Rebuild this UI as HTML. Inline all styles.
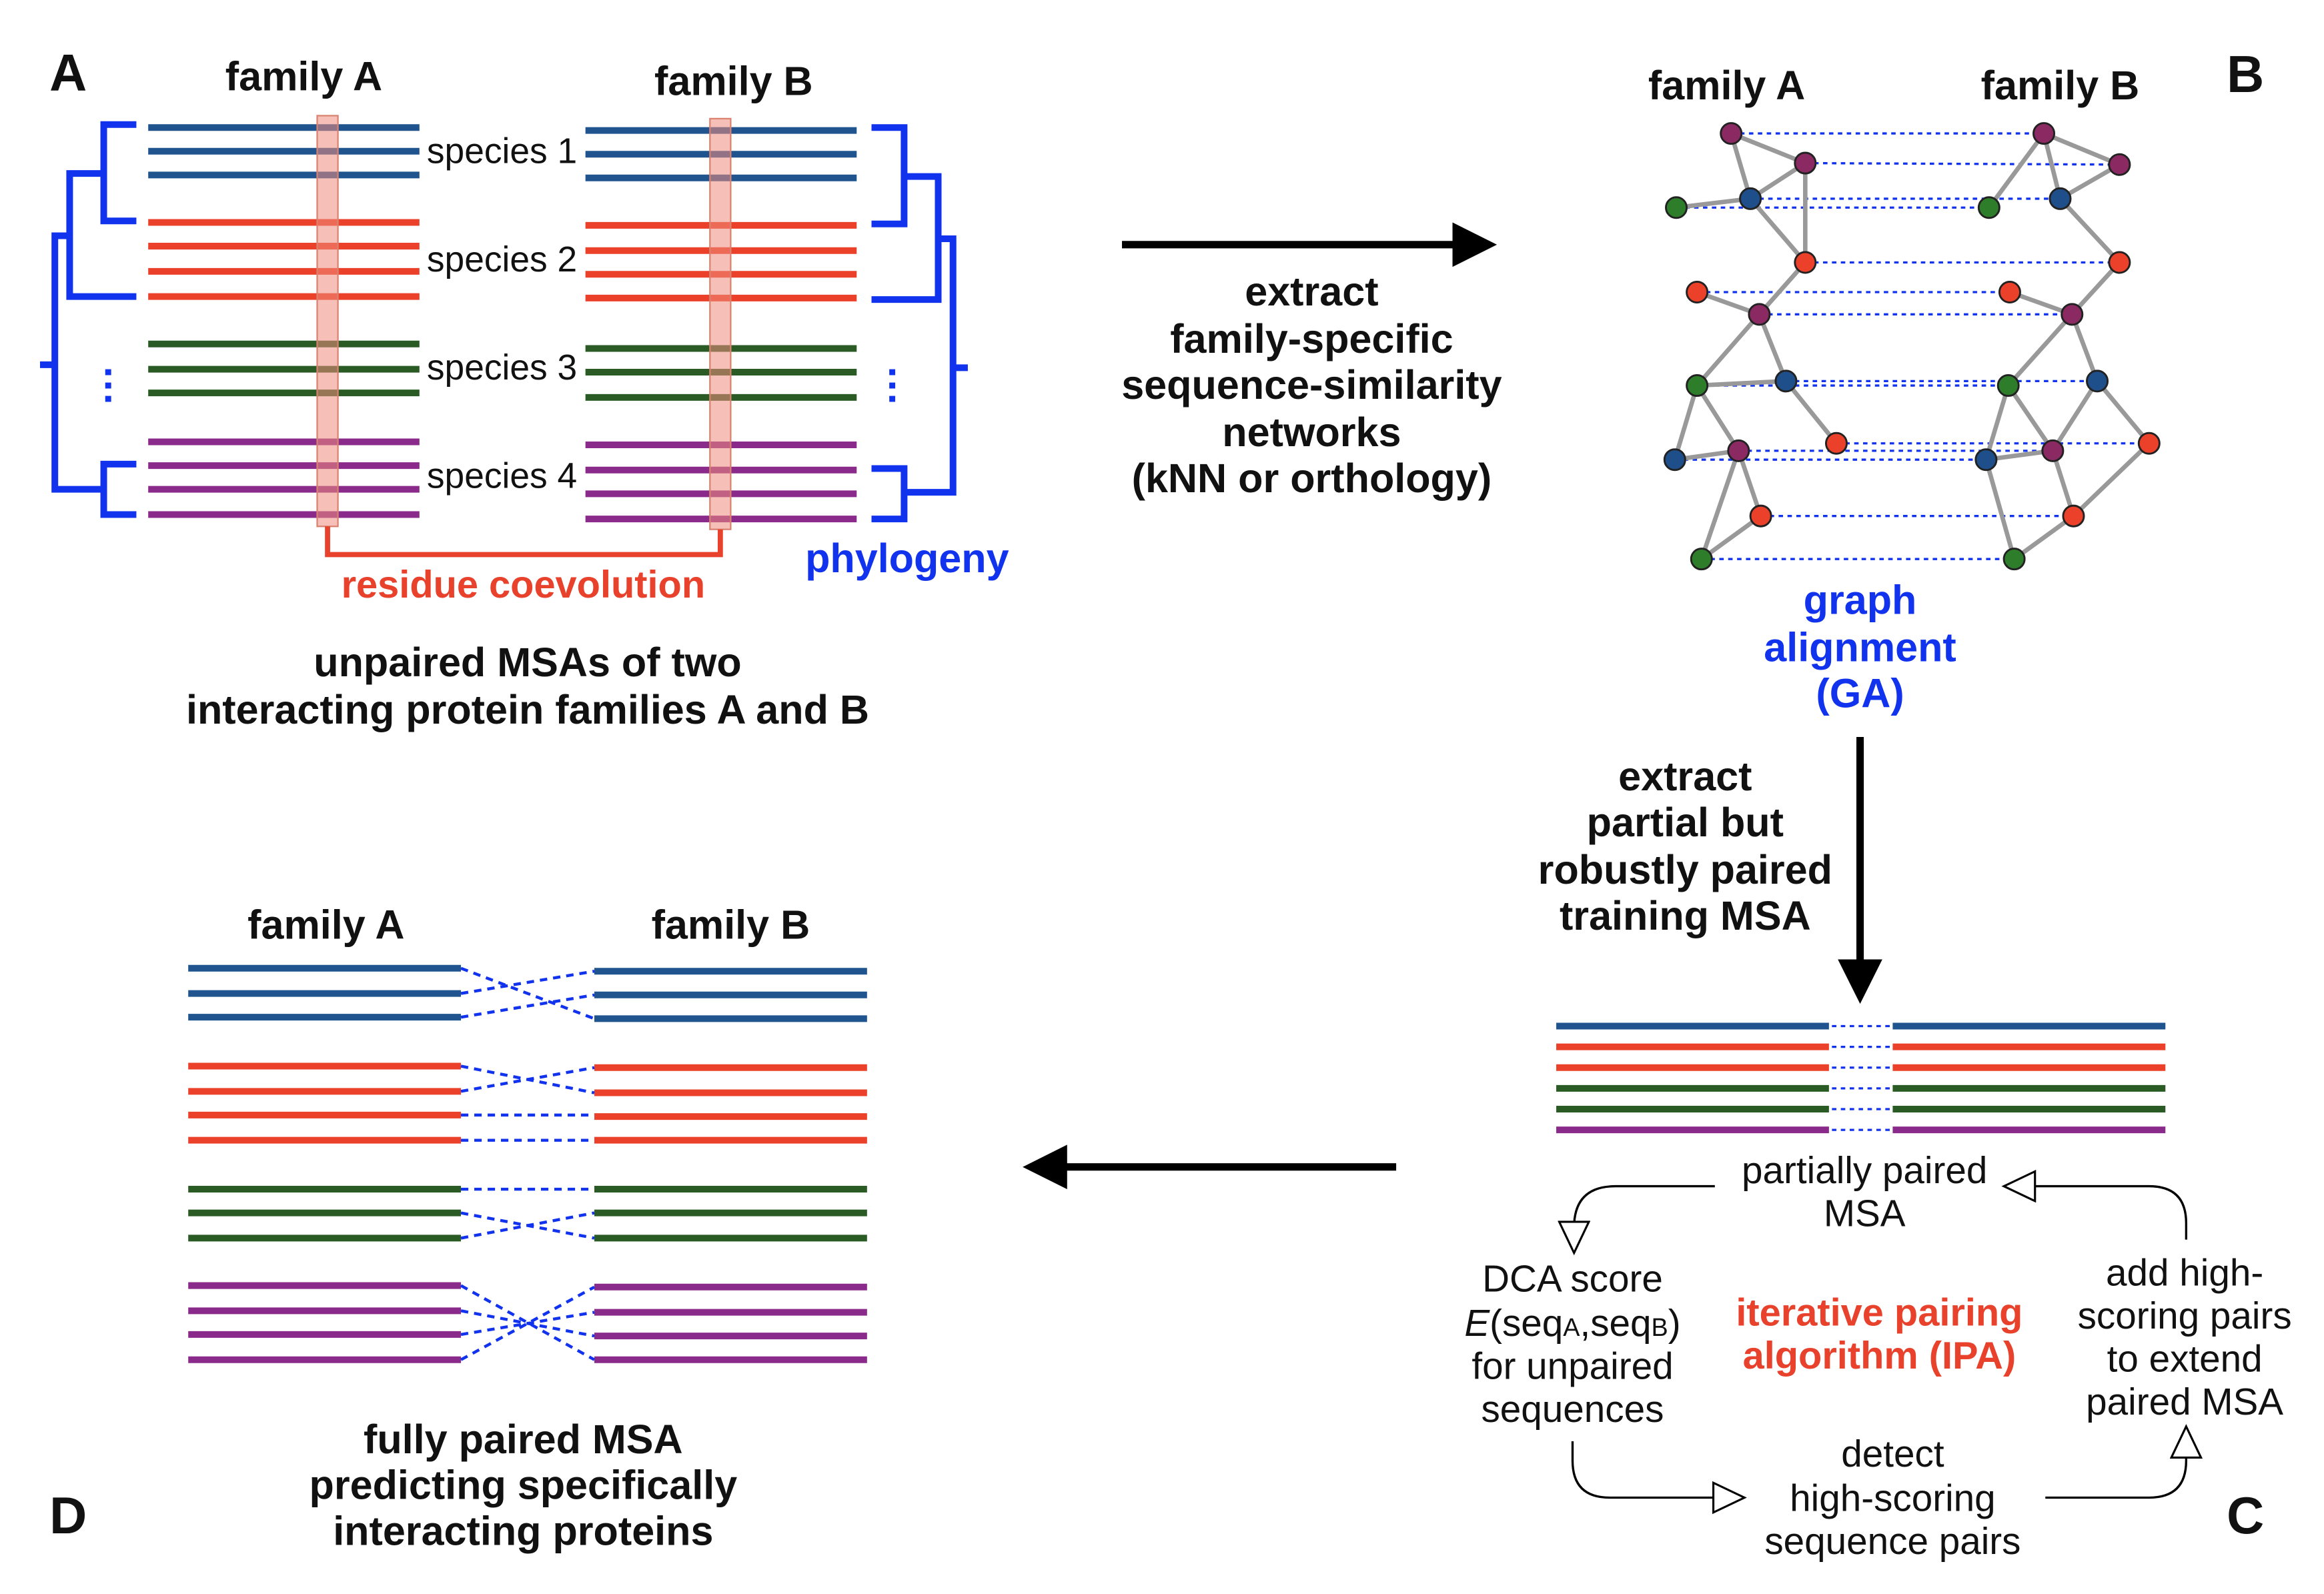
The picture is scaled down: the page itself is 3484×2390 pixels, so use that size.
<!DOCTYPE html>
<html><head><meta charset="utf-8"><style>html,body{margin:0;padding:0;background:#fff}svg{display:block}</style></head>
<body>
<svg width="3484" height="2390" viewBox="0 0 1568 1075" preserveAspectRatio="none" xmlns="http://www.w3.org/2000/svg" font-family="Liberation Sans, Arial, sans-serif">
<defs>
<marker id="ah" markerWidth="6" markerHeight="6" refX="5" refY="3" orient="auto" markerUnits="strokeWidth"><path d="M0,0 L6,3 L0,6 z" fill="#000"/></marker>
<marker id="oh" markerWidth="24" markerHeight="22" refX="22" refY="11" orient="auto" markerUnits="userSpaceOnUse"><path d="M1,1 L22,11 L1,21 z" fill="#fff" stroke="#000" stroke-width="1.4"/></marker>
</defs>
<g font-weight="bold" font-size="27.5" fill="#111" text-anchor="middle">
<text x="46" y="61" font-size="35">A</text>
<text x="205" y="61">family A</text>
<text x="495" y="64">family B</text>
<text x="1165" y="67">family A</text>
<text x="1390" y="67">family B</text>
<text x="1515" y="62" font-size="35">B</text>
<text x="1515" y="1034" font-size="35">C</text>
<text x="46" y="1034" font-size="35">D</text>
<text x="220" y="633">family A</text>
<text x="493" y="633">family B</text>
<text x="356" y="456">unpaired MSAs of two</text>
<text x="356" y="488">interacting protein families A and B</text>
<text x="885" y="206">extract</text>
<text x="885" y="238">family-specific</text>
<text x="885" y="269">sequence-similarity</text>
<text x="885" y="301">networks</text>
<text x="885" y="332">(kNN or orthology)</text>
<text x="1137" y="533">extract</text>
<text x="1137" y="564">partial but</text>
<text x="1137" y="596">robustly paired</text>
<text x="1137" y="627">training MSA</text>
<text x="353" y="980">fully paired MSA</text>
<text x="353" y="1011">predicting specifically</text>
<text x="353" y="1042">interacting proteins</text>
<g fill="#1133ee"><text x="1255" y="414">graph</text><text x="1255" y="446">alignment</text><text x="1255" y="477">(GA)</text><text x="612" y="386">phylogeny</text></g>
<g fill="#e8412c" font-size="26"><text x="353" y="403">residue coevolution</text><text x="1268" y="894">iterative pairing</text><text x="1268" y="923">algorithm (IPA)</text></g>
</g>
<g font-size="24" fill="#111">
<text x="288" y="110">species 1</text><text x="288" y="183">species 2</text><text x="288" y="256">species 3</text><text x="288" y="329">species 4</text>
</g>
<g font-size="25.5" fill="#111" text-anchor="middle">
<text x="1258" y="798">partially paired</text><text x="1258" y="827">MSA</text>
<text x="1061" y="871">DCA score</text>
<text x="1061" y="901"><tspan font-style="italic">E</tspan>(seq<tspan font-size="17">A</tspan>,seq<tspan font-size="17">B</tspan>)</text>
<text x="1061" y="930">for unpaired</text><text x="1061" y="959">sequences</text>
<text x="1474" y="867">add high-</text><text x="1474" y="896">scoring pairs</text><text x="1474" y="925">to extend</text><text x="1474" y="954">paired MSA</text>
<text x="1277" y="989">detect</text><text x="1277" y="1019">high-scoring</text><text x="1277" y="1048">sequence pairs</text>
</g>
<g stroke-width="4.5">
<g stroke="#1f548e"><path d="M100 86H283M100 102H283M100 118H283M395 88H578M395 104H578M395 120H578"/></g>
<g stroke="#eb4029"><path d="M100 150H283M100 166H283M100 183H283M100 200H283M395 152H578M395 169H578M395 185H578M395 201H578"/></g>
<g stroke="#2a5b24"><path d="M100 232H283M100 249H283M100 265H283M395 235H578M395 251H578M395 268H578"/></g>
<g stroke="#8a2a8a"><path d="M100 298H283M100 314H283M100 330H283M100 347H283M395 300H578M395 317H578M395 333H578M395 350H578"/></g>
</g>
<rect x="214" y="78" width="14" height="277" fill="rgba(238,140,125,0.55)" stroke="#d9826f" stroke-width="1"/>
<rect x="479" y="80" width="14" height="277" fill="rgba(238,140,125,0.55)" stroke="#d9826f" stroke-width="1"/>
<path d="M221 355V374H486V357" fill="none" stroke="#e8412c" stroke-width="3.5"/>
<g fill="none" stroke="#1133ee" stroke-width="4.5">
<path d="M92 84H70V149H92M70 117H47V200H92M47 159H37V330H70M37 246H27M92 313H70V347H92"/>
<path d="M588 86H610V151H588M610 119H633V202H588M633 161H643V332H610M643 248H653M588 316H610V350H588"/>
</g>
<g fill="#1133ee"><rect x="71" y="249" width="4" height="4"/><rect x="71" y="258" width="4" height="4"/><rect x="71" y="267" width="4" height="4"/>
<rect x="600" y="249" width="4" height="4"/><rect x="600" y="258" width="4" height="4"/><rect x="600" y="267" width="4" height="4"/></g>
<line x1="757" y1="165" x2="1005" y2="165" stroke="#000" stroke-width="5" marker-end="url(#ah)"/>
<line x1="1255" y1="497" x2="1255" y2="672" stroke="#000" stroke-width="5" marker-end="url(#ah)"/>
<line x1="942" y1="787" x2="695" y2="787" stroke="#000" stroke-width="5" marker-end="url(#ah)"/>
<g stroke="#1133ee" stroke-width="1.5" stroke-dasharray="3,3">
<path d="M1168 90H1379M1218 110L1430 111M1181 134H1390M1131 140H1342M1218 177H1430M1145 197H1356M1187 212H1398M1205 257H1415M1145 260H1355M1173 304H1385M1130 310H1340M1239 299H1450M1188 348H1399M1148 377H1359"/>
</g>
<g stroke="#999" stroke-width="3" fill="none">
<path d="M1168 90L1218 110M1168 90L1181 134M1218 110L1181 134M1181 134L1131 140M1218 110L1218 177M1181 134L1218 177M1218 177L1187 212M1145 197L1187 212M1187 212L1145 260M1187 212L1205 257M1205 257L1145 260M1205 257L1239 299M1145 260L1173 304M1145 260L1130 310M1130 310L1173 304M1173 304L1188 348M1173 304L1148 377M1188 348L1148 377"/>
<path d="M1379 90L1430 111M1379 90L1342 140M1430 111L1390 134M1379 90L1390 134M1390 134L1430 177M1430 177L1398 212M1356 197L1398 212M1398 212L1355 260M1398 212L1415 257M1415 257L1450 299M1355 260L1340 310M1355 260L1385 304M1415 257L1385 304M1340 310L1385 304M1385 304L1399 348M1340 310L1359 377M1359 377L1399 348M1450 299L1399 348"/>
</g>
<g stroke="#222" stroke-width="1.3">
<g fill="#8b2a62"><circle cx="1168" cy="90" r="7"/><circle cx="1218" cy="110" r="7"/><circle cx="1187" cy="212" r="7"/><circle cx="1173" cy="304" r="7"/><circle cx="1379" cy="90" r="7"/><circle cx="1430" cy="111" r="7"/><circle cx="1398" cy="212" r="7"/><circle cx="1385" cy="304" r="7"/></g>
<g fill="#1f4f8a"><circle cx="1181" cy="134" r="7"/><circle cx="1205" cy="257" r="7"/><circle cx="1130" cy="310" r="7"/><circle cx="1390" cy="134" r="7"/><circle cx="1415" cy="257" r="7"/><circle cx="1340" cy="310" r="7"/></g>
<g fill="#2e7d2a"><circle cx="1131" cy="140" r="7"/><circle cx="1145" cy="260" r="7"/><circle cx="1148" cy="377" r="7"/><circle cx="1342" cy="140" r="7"/><circle cx="1355" cy="260" r="7"/><circle cx="1359" cy="377" r="7"/></g>
<g fill="#eb4029"><circle cx="1218" cy="177" r="7"/><circle cx="1145" cy="197" r="7"/><circle cx="1239" cy="299" r="7"/><circle cx="1188" cy="348" r="7"/><circle cx="1430" cy="177" r="7"/><circle cx="1356" cy="197" r="7"/><circle cx="1450" cy="299" r="7"/><circle cx="1399" cy="348" r="7"/></g>
</g>
<g stroke-width="4.5">
<path d="M1050 692H1234M1277 692H1461" stroke="#1f548e"/>
<path d="M1050 706H1234M1277 706H1461M1050 720H1234M1277 720H1461" stroke="#eb4029"/>
<path d="M1050 734H1234M1277 734H1461M1050 748H1234M1277 748H1461" stroke="#2a5b24"/>
<path d="M1050 762H1234M1277 762H1461" stroke="#8a2a8a"/>
</g>
<path d="M1236 692H1276M1236 706H1276M1236 720H1276M1236 734H1276M1236 748H1276M1236 762H1276" stroke="#1133ee" stroke-width="1.5" stroke-dasharray="3,3"/>
<g fill="none" stroke="#000" stroke-width="1.5">
<path d="M1157 800H1090Q1062 800 1062 828V845" marker-end="url(#oh)"/>
<path d="M1475 836V825Q1475 800 1450 800H1352" marker-end="url(#oh)"/>
<path d="M1061 972V985Q1061 1010 1086 1010H1177" marker-end="url(#oh)"/>
<path d="M1380 1010H1450Q1475 1010 1475 985V962" marker-end="url(#oh)"/>
</g>
<g stroke-width="4.5">
<path stroke="#1f548e" d="M127 653H311M127 670H311M127 686H311M401 655H585M401 671H585M401 687H585"/>
<path stroke="#eb4029" d="M127 719H311M127 736H311M127 752H311M127 769H311M401 720H585M401 737H585M401 753H585M401 769H585"/>
<path stroke="#2a5b24" d="M127 802H311M127 818H311M127 835H311M401 802H585M401 818H585M401 835H585"/>
<path stroke="#8a2a8a" d="M127 867H311M127 884H311M127 900H311M127 917H311M401 868H585M401 885H585M401 901H585M401 917H585"/>
</g>
<path fill="none" stroke="#1133ee" stroke-width="2" stroke-dasharray="5,4" d="M311 653L401 687M311 670L401 655M311 686L401 671M311 719L401 737M311 736L401 720M311 752H401M311 769H401M311 802H401M311 818L401 835M311 835L401 818M311 867L401 917M311 884L401 901M311 900L401 885M311 917L401 868"/>
</svg>
</body></html>
